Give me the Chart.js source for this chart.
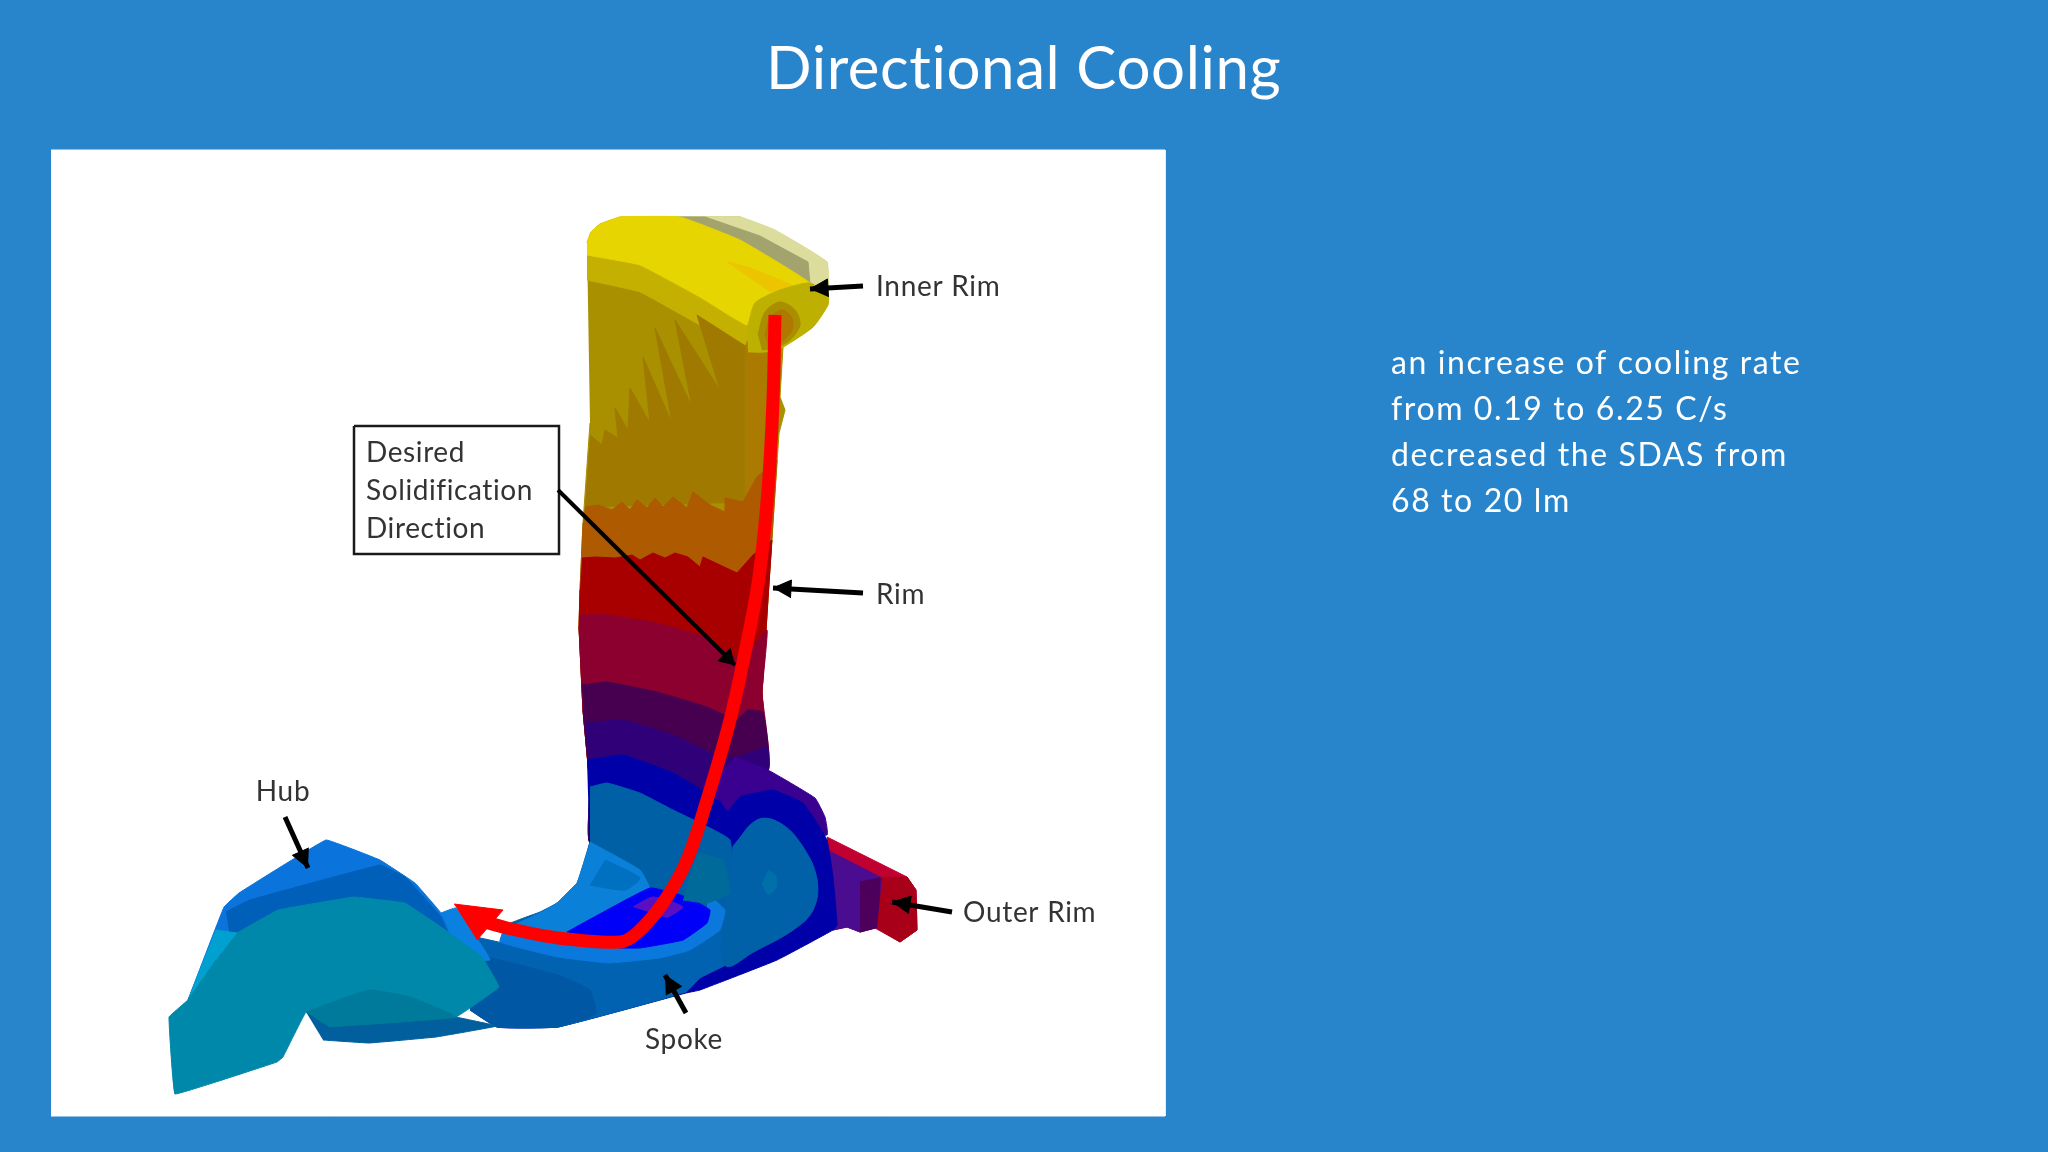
<!DOCTYPE html>
<html><head><meta charset="utf-8">
<style>html,body{margin:0;padding:0;background:#2884cb;overflow:hidden}#w{position:absolute;left:0;top:0;width:2048px;height:1152px}</style>
<script src="https://cdn.jsdelivr.net/npm/chart.js@4"></script></head>
<body><div id="w"><canvas id="c" width="2048" height="1152"></canvas></div>
<script>
const titleText = "Directional Cooling";
const bodyLines = ["an increase of cooling rate","from 0.19 to 6.25 C/s","decreased the SDAS from","68 to 20 lm"];
const boxLines = ["Desired","Solidification","Direction"];
const calloutNames = ["Inner Rim","Rim","Outer Rim","Spoke","Hub"];

const panel = [[51,150],[1165,150],[1165,1116],[51,1116]];
const rimRightEdge = [[783,347],[780,397],[785,410],[779,433],[769,583],[762,693],[768,770]];
const rimLeftEdge = [[587,243],[590,423],[583,523],[580,590],[579,627],[583,710],[590,787],[590,842]];
const rimBase = [[587,243],[591,232],[600,224],[620,217],[740,217],[790,240],[827,262],[828,300],[813,327],[783,347],[780,397],[785,410],[779,433],[769,583],[762,693],[768,770],[590,842],[590,787],[583,710],[579,627],[580,590],[583,523],[590,423]];
const rimBeige = [[660,217],[740,217],[775,230],[827,262],[828,297],[810,284],[740,240]];
const rimGray = [[675,217],[705,217],[760,236],[808,262],[810,284],[740,240]];
const rimSoft = [[587,243],[640,250],[700,275],[760,310],[747,345],[700,325],[640,292],[587,280]];
const rimYellow = [[587,243],[591,232],[600,224],[620,217],[680,217],[740,240],[810,283],[780,290],[755,303],[747,325],[700,297],[640,265],[587,255]];
const rimGlow = [[727,262],[750,268],[792,285],[770,292]];
const rimSpikes = [[590,435],[602,445],[605,430],[618,438],[615,408],[628,430],[630,388],[650,423],[643,357],[672,423],[655,328],[692,407],[675,320],[720,390],[697,315],[747,347],[745,502],[585,507]];
const rimFace = [[745,347],[757,320],[775,310],[790,335],[781,347],[779,397],[778,433],[772,470],[745,502]];
const capOuter = [[747,330],[755,303],[780,290],[810,283],[828,296],[828,305],[813,327],[783,347],[765,352],[748,352]];
const capMid = [[758,335],[765,312],[780,302],[795,310],[800,325],[790,340],[775,348],[762,350]];
const capInner = [[765,335],[770,318],[782,310],[792,318],[792,330],[782,342],[770,352]];
const bandOrangeTop = [[585,507],[598,505],[612,510],[622,502],[630,510],[637,500],[647,508],[655,498],[663,507],[673,497],[687,508],[693,492],[710,505],[725,512],[725,498],[743,502],[757,477],[777,460]];
const bandRedTop = [[582,558],[595,557],[615,558],[632,555],[640,560],[653,553],[665,558],[675,553],[688,557],[700,567],[703,557],[737,573],[753,555],[772,540]];
const bandCrimsonTop = [[579,615],[607,615],[657,623],[707,638],[740,660],[767,630]];
const bandPlumTop = [[582,685],[607,682],[657,692],[707,707],[737,720],[747,710],[763,712]];
const bandVioletTop = [[585,723],[623,720],[673,735],[720,757],[737,757],[767,747]];
const outerTop = [[827,837],[907,877],[916,890],[917,930],[900,942],[875,928],[860,932],[847,927],[833,930],[827,873]];
const outerFace = [[882,878],[907,877],[916,890],[917,930],[900,942],[877,928]];
const outerPurple = [[827,850],[882,878],[880,927],[860,932],[847,927],[833,930]];
const outerDark = [[860,882],[880,878],[878,927],[860,932]];
const ringPurple = [[735,757],[768,770],[815,798],[825,817],[827,835],[705,835],[705,790]];
const bodyNavy = [[727,813],[740,797],[773,790],[803,803],[817,823],[827,840],[833,877],[837,925],[833,930],[777,960],[700,990],[686,993],[558,1027],[497,1027],[476,1000],[476,945],[560,945],[590,842],[590,830],[720,800]];
const bandBlue = [[587,760],[623,755],[673,773],[713,797],[735,820],[740,860],[590,860]];
const bowlTeal = [[590,787],[607,783],[640,793],[673,810],[700,823],[730,840],[735,930],[640,960],[540,940],[507,925],[540,912],[557,903],[577,883],[590,842]];
const bowlLight = [[590,842],[640,870],[650,890],[567,932],[500,932],[540,913],[557,903],[577,883]];
const bowlPale = [[605,860],[640,878],[625,890],[590,885]];
const spokeBody = [[476,937],[558,955],[609,960],[660,955],[711,937],[733,900],[733,847],[757,820],[780,823],[803,847],[817,880],[813,910],[793,930],[757,950],[700,978],[686,992],[558,1027],[497,1027],[470,1010]];
const spokeDark = [[480,955],[558,975],[590,990],[596,1014],[558,1027],[497,1027],[470,1010]];
const discBody = [[733,847],[757,820],[780,823],[803,847],[817,880],[813,910],[793,930],[757,950],[725,965],[725,900]];
const discDot = [[768,870],[776,876],[776,888],[768,894],[762,884]];
const basinRing = [[707,893],[725,910],[720,930],[690,950],[660,958],[609,963],[558,957],[500,942],[507,925],[620,948],[683,940],[707,923]];
const basinBlue = [[567,932],[650,888],[687,897],[710,910],[707,923],[683,940],[640,948],[620,948]];
const basinViolet = [[633,907],[653,897],[683,907],[667,918]];
const hubCore = [[697,853],[723,860],[730,893],[707,903],[683,900]];
const hubBlue = [[188,1000],[224,907],[239,893],[326,840],[380,860],[415,883],[441,913],[456,950],[470,990],[400,1000],[300,1000]];
const hubMid = [[226,912],[250,900],[380,865],[405,877],[441,917],[470,990],[240,1000]];
const hubTeal = [[237,933],[278,910],[354,897],[405,903],[441,927],[482,957],[499,987],[456,1017],[410,997],[369,990],[306,1012],[283,1057],[277,1062],[175,1094],[169,1017],[188,1000],[216,960]];
const hubSliver = [[188,1000],[216,930],[237,933],[232,960],[201,993]];
const hubUnder = [[306,1012],[369,990],[410,997],[456,1017],[329,1027]];
const hubLower = [[306,1012],[369,990],[456,1017],[497,1026],[436,1037],[369,1043],[323,1040]];
const spokeLobe = [[441,913],[456,908],[476,937],[490,960],[456,960]];
const redPath = [[775,315],[773,400],[768,490],[759,577],[747,643],[730,720],[707,800],[687,860],[663,903],[637,933],[620,942],[558,938],[507,928],[478,920]];
const redHead = [[454,904],[503,910],[477,940]];
const boxRect = [[354,426],[559,426],[559,554],[354,554],[354,426]];
const arrowInner = [[863,286],[810,289]];
const arrowRim = [[863,593],[773,588]];
const arrowOuter = [[952,912],[892,902]];
const arrowSpoke = [[686,1013],[665,975]];
const arrowHub = [[285,817],[308,868]];
const arrowBox = [[558,490],[735,665]];

const bandEdge = (top) => {
  const a = top[0], b = top[top.length-1];
  const right = rimRightEdge.filter(p => p[1] > b[1]);
  const left = rimLeftEdge.filter(p => p[1] > a[1]).reverse();
  return [...top, ...right, ...left];
};
const head = (seg, len, half) => {
  const [p,q] = seg, dx=q[0]-p[0], dy=q[1]-p[1], d=Math.hypot(dx,dy), ux=dx/d, uy=dy/d;
  return [q,[q[0]-ux*len-uy*half,q[1]-uy*len+ux*half],[q[0]-ux*len+uy*half,q[1]-uy*len-ux*half]];
};
// painter's order: first entry is painted first
const fills = [
 [panel,'#ffffff',0],
 [rimBase,'#a89000',0],[rimBeige,'#dcdc9c',.1],[rimGray,'#a3a36e',0],[rimSoft,'#c4b000',.1],[rimYellow,'#e6d500',.1],[rimGlow,'#ecc400',0],
 [rimSpikes,'#a07a00',0],[rimFace,'#ab7a00',0],[capOuter,'#bdb000',.2],[capMid,'#a88e00',.3],[capInner,'#b07800',.3],
 [bandEdge(bandOrangeTop),'#ad5a00',0],[bandEdge(bandRedTop),'#a80000',0],[bandEdge(bandCrimsonTop),'#8c0030',.1],
 [bandEdge(bandPlumTop),'#470050',.1],[bandEdge(bandVioletTop),'#300078',.1],
 [outerTop,'#c00030',0],[outerPurple,'#4a0c90',0],[outerDark,'#4c005c',0],[outerFace,'#a80018',0],
 [ringPurple,'#3a0090',.1],[bodyNavy,'#0000a8',.1],[bandBlue,'#0000a8',.1],[bowlTeal,'#0060a6',.1],
 [bowlLight,'#0a80d8',.1],[bowlPale,'#0070c0',.2],[spokeBody,'#0062b0',.1],[spokeDark,'#0058a4',.1],[discBody,'#0060a8',.4],[discDot,'#0070a8',.3],
 [basinRing,'#0a78dc',.1],[basinBlue,'#0000f8',.1],[basinViolet,'#5a10c0',.2],[hubCore,'#006a9a',.1],
 [spokeLobe,'#0a80e0',.1],[hubBlue,'#0a74dc',.05],[hubMid,'#005fb8',.05],[hubSliver,'#00a0d0',0],[hubLower,'#005f9c',.05],[hubTeal,'#0088aa',.04],[hubUnder,'#007a9a',.1],
 [redHead,'#ff0000',0]
];
const strokes = [[redPath,'#ff0000',13,.3],[boxRect,'#1a1a1a',2.5,0]];
const arrows = [arrowInner,arrowRim,arrowOuter,arrowSpoke,arrowHub,arrowBox];

const pts = a => a.map(p => ({x:p[0],y:p[1]}));
const datasets = [];
fills.forEach(([a,c,t]) => datasets.push({data:pts(a),backgroundColor:c,borderColor:c,borderWidth:1,fill:'shape',tension:t,pointRadius:0}));
datasets.push({data:pts(boxRect),backgroundColor:'#ffffff',borderColor:'#ffffff',borderWidth:0,fill:'shape',pointRadius:0});
strokes.forEach(([a,c,w,t]) => datasets.push({data:pts(a),borderColor:c,borderWidth:w,fill:false,tension:t,pointRadius:0,borderCapStyle:'butt'}));
arrows.forEach(a => {
  datasets.push({data:pts(a),borderColor:'#000',borderWidth:a===arrowBox?4:5,fill:false,pointRadius:0});
  datasets.push({data:pts(head(a,a===arrowBox?15:18,9)),backgroundColor:'#000',borderColor:'#000',borderWidth:1,fill:'shape',pointRadius:0});
});
datasets.forEach((d,i)=>{d.order=datasets.length-i;d.clip=false;});

const textAnchors = {
 title:[[766,89]], body:[[1391,374],[1391,420],[1391,466],[1391,512]], box:[[366,462],[366,500],[366,538]],
 names:[[876,296],[876,604],[963,922],[684,1049],[283,801]]
};
const slideFont = 'Lato, sans-serif', picFont = 'Lato, sans-serif';
const textPlugin = {id:'texts',afterDatasetsDraw(ch){
  const {ctx,scales:{x,y}} = ch;
  const put=(s,p,font,col,align,ls)=>{ctx.font=font;ctx.fillStyle=col;ctx.textAlign=align;ctx.textBaseline='alphabetic';ctx.letterSpacing=ls||'0px';ctx.fillText(s,x.getPixelForValue(p[0]),y.getPixelForValue(p[1]));};
  ctx.save();
  put(titleText,textAnchors.title[0],'400 60px '+slideFont,'#ffffff','left','0.6px');
  bodyLines.forEach((s,i)=>put(s,textAnchors.body[i],'400 32px '+slideFont,'#ffffff','left','1.6px'));
  boxLines.forEach((s,i)=>put(s,textAnchors.box[i],'400 28px '+picFont,'#333333','left','0.6px'));
  calloutNames.forEach((s,i)=>put(s,textAnchors.names[i],'400 28px '+picFont,'#333333',i>=3?'center':'left','0.7px'));
  ctx.restore();
}};
new Chart(document.getElementById('c'),{type:'line',data:{datasets},plugins:[textPlugin],options:{
  responsive:false,animation:false,devicePixelRatio:1,layout:{padding:0},
  plugins:{legend:{display:false},title:{display:false},tooltip:{enabled:false}},
  scales:{x:{type:'linear',min:0,max:2048,display:false},y:{type:'linear',min:0,max:1152,reverse:true,display:false}}
}});
</script></body></html>
